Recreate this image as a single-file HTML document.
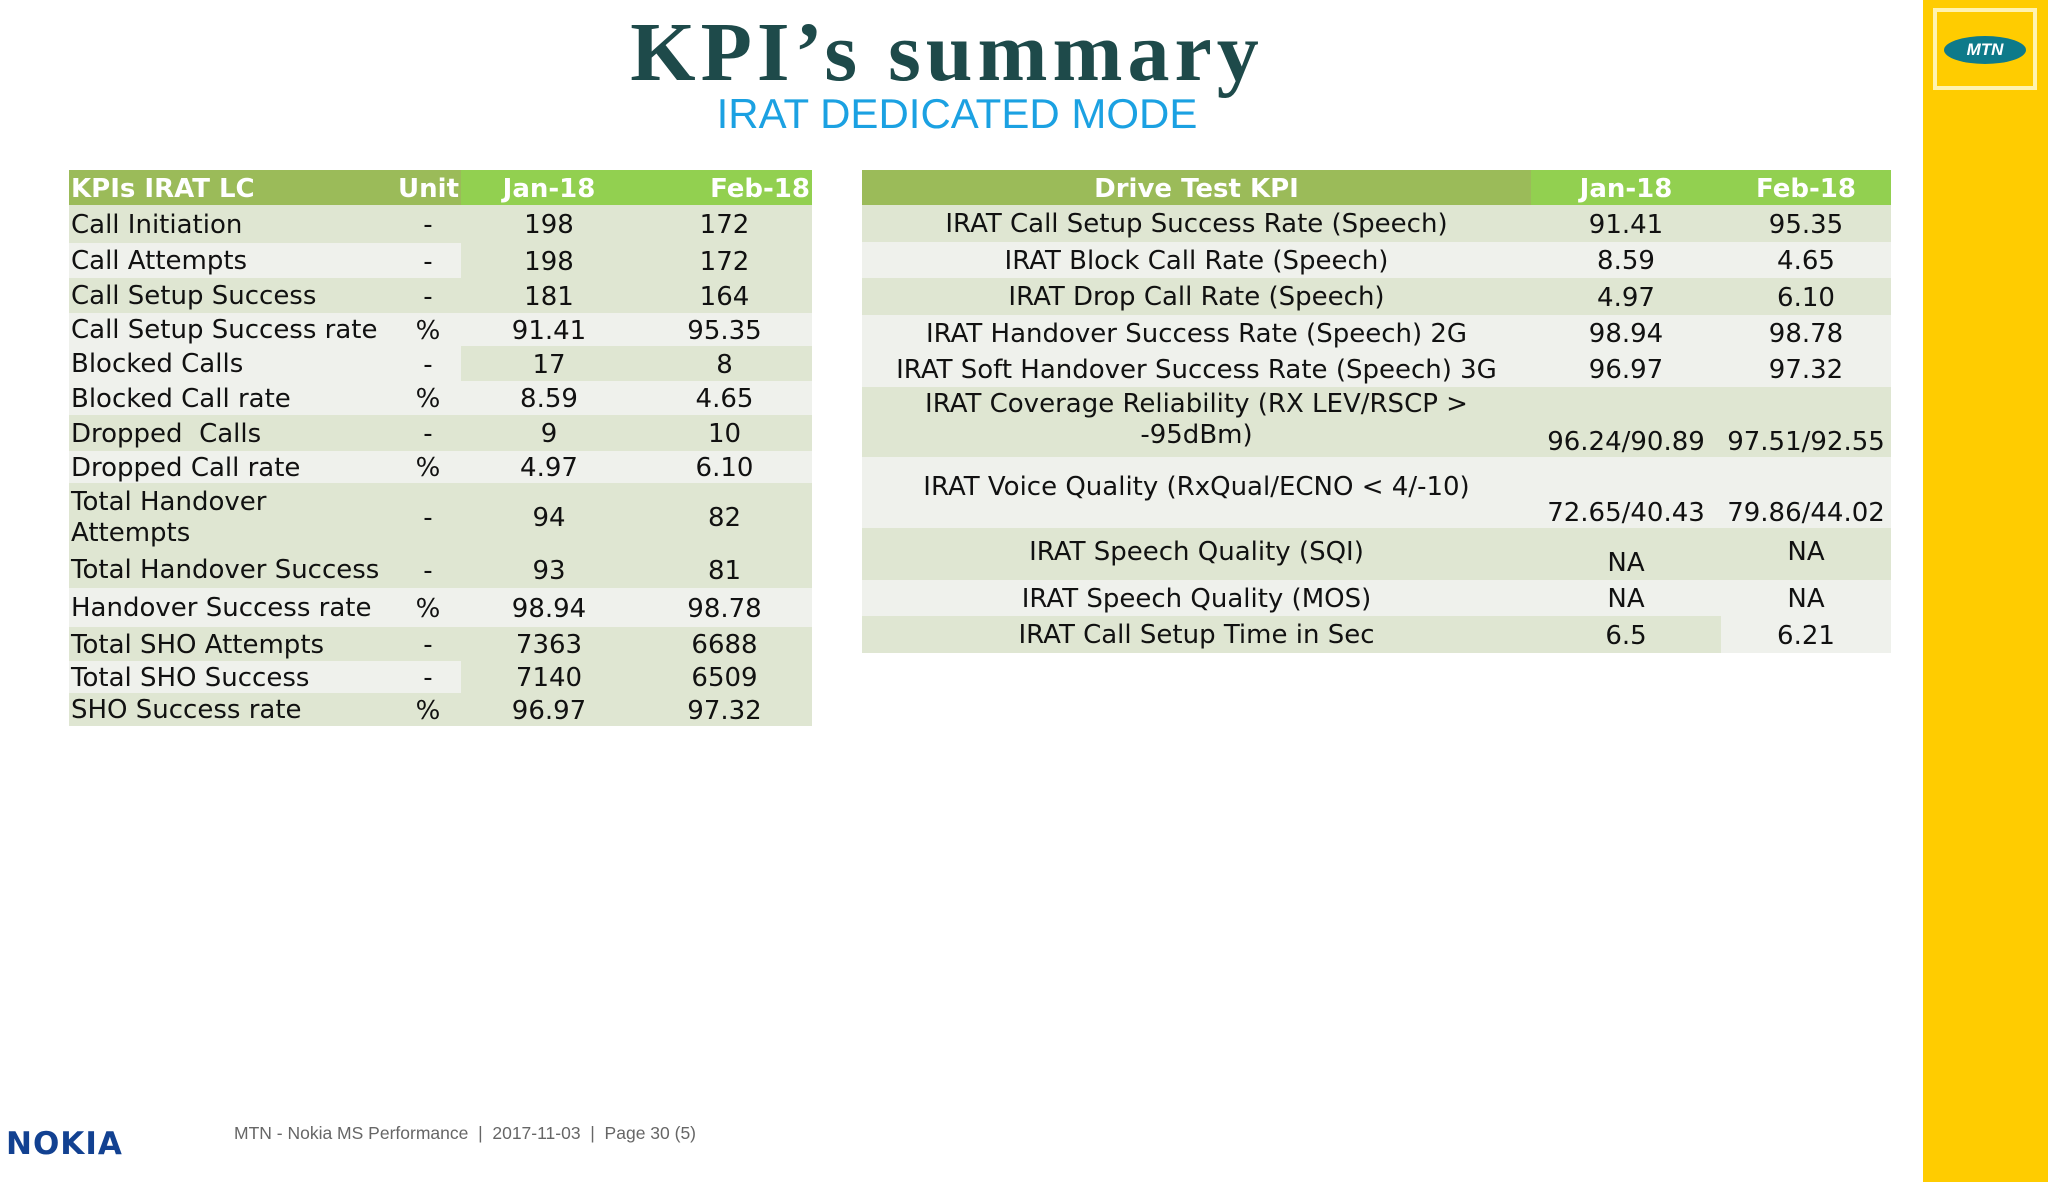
<!DOCTYPE html>
<html><head><meta charset="utf-8">
<style>
html,body{margin:0;padding:0;}
body{width:2048px;height:1182px;position:relative;overflow:hidden;background:#fff;font-family:"DejaVu Sans",sans-serif;}
.c{position:absolute;box-sizing:border-box;font-size:26px;color:#111;display:flex;align-items:center;white-space:nowrap;padding-top:2px!important;}
.h{color:#fff;font-weight:bold;font-size:26px;}
</style></head><body>
<div style="position:absolute;left:547px;width:800px;top:4px;text-align:center;font-family:'Liberation Serif',serif;font-weight:bold;font-size:84px;color:#1e4a4a;letter-spacing:5px;">KPI’s summary</div>
<div style="position:absolute;left:547px;width:820px;top:90px;text-align:center;font-family:'Liberation Sans',sans-serif;font-size:42px;color:#1ba1e2;">IRAT DEDICATED MODE</div>
<div style="position:absolute;left:1923px;top:0;width:125px;height:1182px;background:#ffcc00;"></div>
<div style="position:absolute;left:1933px;top:8px;width:104px;height:82px;border:4px solid #fff3b0;box-sizing:border-box;">
<div style="position:absolute;left:7px;top:24px;width:82px;height:28px;border-radius:50%;background:#0e7a8a;color:#fff;font:italic bold 17px 'Liberation Sans',sans-serif;text-align:center;line-height:28px;">MTN</div></div>
<div style="position:absolute;left:6px;top:1126px;font:900 31px 'DejaVu Sans',sans-serif;color:#124191;letter-spacing:1px;">NOKIA</div>
<div style="position:absolute;left:234px;top:1123px;font:17.5px 'Liberation Sans',sans-serif;color:#666;">MTN - Nokia MS Performance &nbsp;|&nbsp; 2017-11-03 &nbsp;|&nbsp; Page 30 (5)</div>
<script>
const leftNames=["Call Initiation","Call Attempts","Call Setup Success","Call Setup Success rate","Blocked Calls","Blocked Call rate","Dropped&nbsp; Calls","Dropped Call rate","Total Handover<br>Attempts","Total Handover Success","Handover Success rate","Total SHO Attempts","Total SHO Success","SHO Success rate"];
const leftUnits=["-","-","-","%","-","%","-","%","-","-","%","-","-","%"];
const leftJan=["198","198","181","91.41","17","8.59","9","4.97","94","93","98.94","7363","7140","96.97"];
const leftFeb=["172","172","164","95.35","8","4.65","10","6.10","82","81","98.78","6688","6509","97.32"];
const rightNames=["IRAT Call Setup Success Rate (Speech)","IRAT Block Call Rate (Speech)","IRAT Drop Call Rate (Speech)","IRAT Handover Success Rate (Speech) 2G","IRAT Soft Handover Success Rate (Speech) 3G","IRAT Coverage Reliability (RX LEV/RSCP &gt;<br>-95dBm)","IRAT Voice Quality (RxQual/ECNO &lt; 4/-10)","IRAT Speech Quality (SQI)","IRAT Speech Quality (MOS)","IRAT Call Setup Time in Sec"];
const rightJan=["91.41","8.59","4.97","98.94","96.97","96.24/90.89","72.65/40.43","NA","NA","6.5"];
const rightFeb=["95.35","4.65","6.10","98.78","97.32","97.51/92.55","79.86/44.02","NA","NA","6.21"];
const LY=[170,205,243,278,313,346,381,415,451,483,551,588,627,661,693,726];
const RY=[170,205,242,278,315,351,387,457,528,580,616,653];
const G1="#dfe6d2",G2="#eff1ec";
const leftBgA=[G1,G2,G1,G2,G2,G2,G1,G2,G1,G1,G2,G1,G2,G1];
const leftBgD=[G1,G1,G1,G2,G1,G2,G1,G2,G1,G1,G2,G1,G1,G1];
const rightBg=[G1,G2,G1,G2,G2,G1,G2,G1,G2,G1];
function cell(x,y,w,h,html,bg,align,cls){
  const d=document.createElement('div');
  d.className='c '+(cls||'');
  d.style.cssText+=`left:${x}px;top:${y}px;width:${w}px;height:${h}px;background:${bg};justify-content:${align};padding:0 2px;`;
  d.innerHTML=html;
  document.body.appendChild(d);
  return d;
}
let e;
e=cell(69,170,392,35,"KPIs IRAT LC","#9bbb59","flex-start","h");


e=cell(380,170,81,35,"Unit","transparent","flex-end","h");


e=cell(461,170,176,35,"Jan-18","#92d050","center","h");


e=cell(637,170,175,35,"Feb-18","#92d050","flex-end","h");


for(let i=0;i<leftNames.length;i++){
  const y=LY[i+1],h=LY[i+2]-LY[i+1];
  e=cell(69,y,392,h,leftNames[i],leftBgA[i],"flex-start");
  e.style.lineHeight="31px";
  
  
  e=cell(395,y,66,h,leftUnits[i],"transparent","center");
  
  
  e=cell(461,y,176,h,leftJan[i],leftBgD[i],"center");
  
  
  e=cell(637,y,175,h,leftFeb[i],leftBgD[i],"center");
  
  
}
e=cell(862,170,669,35,"Drive Test KPI","#9bbb59","center","h");


e=cell(1531,170,190,35,"Jan-18","#92d050","center","h");


e=cell(1721,170,170,35,"Feb-18","#92d050","center","h");


for(let i=0;i<rightNames.length;i++){
  const y=RY[i+1],h=RY[i+2]-RY[i+1];
  const tall=h>45;
  e=cell(862,y,669,h,rightNames[i],rightBg[i],"center");
  e.style.textAlign="center";e.style.lineHeight="31px";
  if(i===5){e.style.alignItems="flex-start";}
  if(i===6){e.style.paddingBottom="12px";}
  if(i===7){e.style.paddingBottom="6px";}
  
  
  e=cell(1531,y,190,h,rightJan[i],rightBg[i],"center");
  if(tall)e.style.alignItems="flex-end";
  if(i===7)e.style.alignItems="flex-end";
  if(i===7)e.style.paddingBottom="2px";
  
  
  const fb=(i>=8)?G2:rightBg[i];
  e=cell(1721,y,170,h,rightFeb[i],fb,"center");
  if(tall&&i!==7)e.style.alignItems="flex-end";
  if(i===7)e.style.paddingBottom="6px";
  
  
}
</script>
</body></html>
